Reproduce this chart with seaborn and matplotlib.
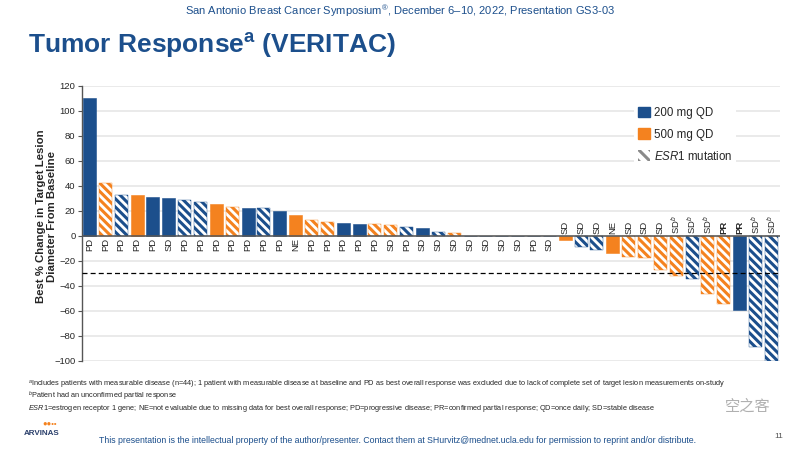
import pandas as pd
import matplotlib
matplotlib.use('Agg')
import matplotlib.pyplot as plt
import seaborn as sns
from matplotlib.patches import Patch

# Waterfall data (one bar per patient, sorted)
change = [110, 42, 33, 33, 31, 30, 28.5, 27, 25.5, 23, 22.5, 22, 20, 16.5, 13,
          11, 10, 9.5, 9.5, 8.5, 7, 6, 3.5, 2, 0, 0, 0, 0, 0, 0,
          -3.5, -8.5, -11.5, -13.3, -16.8, -18, -27, -32.3, -34.6, -46.6,
          -54.6, -59.4, -89, -100]
response = ['PD', 'PD', 'PD', 'PD', 'PD', 'SD', 'PD', 'PD', 'PD', 'PD', 'PD',
            'PD', 'PD', 'NE', 'PD', 'PD', 'PD', 'PD', 'PD', 'SD', 'PD', 'SD',
            'SD', 'SD', 'SD', 'SD', 'SD', 'SD', 'PD', 'SD', 'SD', 'SD', 'SD',
            'NE', 'SD', 'SD', 'SD', 'SDb', 'SDb', 'SDb', 'PR', 'PR', 'SDb', 'SDb']
dose = [200, 500, 200, 500, 200, 200, 200, 200, 500, 500, 200, 200, 200, 500,
        500, 500, 200, 200, 500, 500, 200, 200, 200, 500, 200, 200, 200, 200,
        200, 200, 500, 200, 200, 500, 500, 500, 500, 500, 200, 500, 500, 200,
        200, 200]
esr1 = [0, 1, 1, 0, 0, 0, 1, 1, 0, 1, 0, 1, 0, 0, 1, 1, 0, 0, 1, 1, 1, 0, 1,
        1, 0, 0, 0, 0, 0, 0, 0, 1, 1, 0, 1, 1, 1, 1, 1, 1, 1, 0, 1, 1]

BLUE = '#1c4f8c'
ORANGE = '#f4821f'
dose_colors = {200: BLUE, 500: ORANGE}
HATCH = '\\\\\\\\'

df = pd.DataFrame({'pt': list(range(len(change))), 'change': change,
                   'response': response, 'dose': dose, 'esr1': esr1})

sns.set_style('white')
plt.rcParams['font.family'] = ['Liberation Sans', 'DejaVu Sans']
plt.rcParams['mathtext.fontset'] = 'custom'
plt.rcParams['mathtext.rm'] = 'Liberation Sans'
plt.rcParams['mathtext.it'] = 'Liberation Sans:italic'
plt.rcParams['mathtext.bf'] = 'Liberation Sans:bold'
plt.rcParams['hatch.linewidth'] = 2.2

fig = plt.figure(figsize=(8, 4.49), dpi=100)
ax = fig.add_axes([0.103, 0.196, 0.872, 0.6125])

palette = {p: dose_colors[d] for p, d in zip(df['pt'], df['dose'])}
sns.barplot(data=df, x='pt', y='change', hue='pt', palette=palette,
            legend=False, width=0.82, saturation=1, ax=ax, zorder=3)

for bar in ax.patches:
    i = int(round(bar.get_x() + bar.get_width() / 2))
    col = dose_colors[dose[i]]
    if esr1[i]:
        bar.set_facecolor('white')
        bar.set_edgecolor(col)
        bar.set_hatch(HATCH)
        bar.set_linewidth(0.3)
    else:
        bar.set_facecolor(col)
        bar.set_edgecolor(col)
        bar.set_linewidth(0.4)

# response labels next to the zero line
for i, (v, r) in enumerate(zip(change, response)):
    txt = 'SD$^{b}$' if r == 'SDb' else r
    weight = 'bold' if r == 'PR' else 'normal'
    if v >= 0:
        ax.text(i, -1.5, txt, rotation=90, ha='center', va='top',
                fontsize=6.8, weight=weight, zorder=5)
    else:
        ax.text(i, 1.5, txt, rotation=90, ha='center', va='bottom',
                fontsize=6.8, weight=weight, zorder=5)

ax.set_ylim(-100, 120)
ax.set_xlim(-0.45, 43.55)
ax.set_yticks(range(-100, 121, 20))
ax.yaxis.grid(True, color='#e6e6e6', lw=1.2, zorder=0)
ax.axhline(0, color='#555555', lw=1.1, zorder=4)
ax.axhline(-30, color='black', lw=0.9, ls=(0, (4, 2.5)), zorder=4)
for s in ['top', 'right', 'bottom']:
    ax.spines[s].set_visible(False)
ax.spines['left'].set_color('#555555')
ax.spines['left'].set_linewidth(1)
ax.tick_params(axis='y', left=True, length=3, width=0.8, color='#555555',
               labelsize=6.8, pad=2)
ax.set_xticks([])
ax.set_xlabel('')
ax.set_ylabel('Best % Change in Target Lesion\nDiameter From Baseline',
              fontsize=8.2, weight='bold', linespacing=1.1)
ax.yaxis.set_label_coords(-0.036, 0.527)

handles = [Patch(facecolor=BLUE, edgecolor=BLUE),
           Patch(facecolor=ORANGE, edgecolor=ORANGE),
           Patch(facecolor='white', edgecolor='#8a8a8a', hatch='\\\\\\', lw=0)]
labels = ['200 mg QD', '500 mg QD', r'$\it{ESR1}$ mutation']
leg = ax.legend(handles, labels, loc='upper left',
                bbox_to_anchor=(0.793, 0.77), bbox_transform=fig.transFigure,
                frameon=True, fontsize=8.3, handlelength=1.05, handleheight=1.05,
                handletextpad=0.35, labelspacing=0.8, borderpad=0.3,
                borderaxespad=0)
leg.get_frame().set_facecolor('white')
leg.get_frame().set_edgecolor('none')
leg.get_frame().set_alpha(1)
leg.set_zorder(6)

# slide text
fig.text(0.5, 0.976, 'San Antonio Breast Cancer Symposium$^{\\circledR}$, December 6\u201310, 2022, Presentation GS3-03',
         ha='center', va='center', fontsize=8.0, color=BLUE)
fig.text(0.035, 0.898, 'Tumor Response$^{\\mathbf{a}}$ (VERITAC)', ha='left',
         va='center', fontsize=19, weight='bold', color=BLUE)

fig.text(0.035, 0.143, '$^{a}$Includes patients with measurable disease (n=44); 1 patient with measurable disease at baseline and PD as best overall response was excluded due to lack of complete set of target lesion measurements on-study',
         ha='left', va='center', fontsize=5.35)
fig.text(0.035, 0.118, '$^{b}$Patient had an unconfirmed partial response',
         ha='left', va='center', fontsize=5.35)
fig.text(0.035, 0.09, '$\\it{ESR1}$=estrogen receptor 1 gene; NE=not evaluable due to missing data for best overall response; PD=progressive disease; PR=confirmed partial response; QD=once daily; SD=stable disease',
         ha='left', va='center', fontsize=5.35)
fig.text(0.052, 0.035, 'ARVINAS', ha='center', va='center', fontsize=5.8,
         color='#2a3f6b', weight='bold')
fig.text(0.062, 0.056, '\u25cf\u25cf\u2022\u2022', ha='center', va='center',
         fontsize=5.5, color=ORANGE)
fig.text(0.497, 0.018, 'This presentation is the intellectual property of the author/presenter. Contact them at SHurvitz@mednet.ucla.edu for permission to reprint and/or distribute.',
         ha='center', va='center', fontsize=6.3, color=BLUE)
fig.text(0.974, 0.028, '11', ha='center', va='center', fontsize=6,
         color='#555555')
fig.text(0.935, 0.095, '\u7a7a\u4e4b\u5ba2', ha='center', va='center',
         fontsize=11, color='#b0b0b0', family=['Noto Sans CJK SC', 'DejaVu Sans'])

fig.savefig('out.png', dpi=100)
